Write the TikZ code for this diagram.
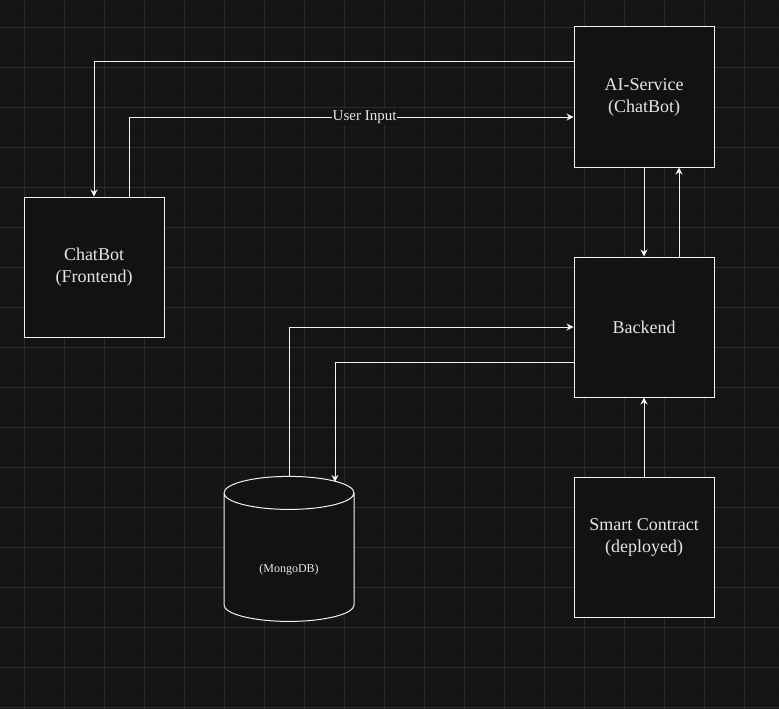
\documentclass[tikz,border=0pt]{standalone}
\usepackage{fontspec}
\setmainfont{Liberation Serif}
\usepackage{tikz}
\usetikzlibrary{arrows.meta,shapes.geometric}
\definecolor{Canvas}{HTML}{141414}
\definecolor{MinorGrid}{HTML}{181818}
\definecolor{MajorGrid}{HTML}{2B2B2B}
\definecolor{BoxFill}{HTML}{121212}
\definecolor{Ink}{HTML}{F2F2F2}
\definecolor{Label}{HTML}{E6E6E6}

\begin{document}
\begin{tikzpicture}[x=1pt, y=-1pt, >={Stealth[length=7pt,width=7pt]}]
\tikzset{box/.style={draw=Ink, line width=1pt, fill=BoxFill, minimum width=140pt, minimum height=140pt, align=center, text=Label, font=\fontsize{18}{22}\selectfont}, store/.style={cylinder, shape border rotate=90, aspect=0.5, draw=Ink, line width=1pt, fill=BoxFill, minimum width=130pt, minimum height=145pt, text=Label, font=\fontsize{12}{14}\selectfont, text height=28pt, text depth=3pt}, link/.style={->, draw=Ink, line width=1pt}}
% canvas and grid
\fill[Canvas] (0,0) rectangle (779,709);
\useasboundingbox (0,0) rectangle (779,709);
\foreach \x in {4,14,...,774} \draw[MinorGrid, line width=0.8pt] (\x,0) -- (\x,709);
\foreach \y in {7,17,...,707} \draw[MinorGrid, line width=0.8pt] (0,\y) -- (779,\y);
\foreach \x in {24,64,...,744} \draw[MajorGrid, line width=0.8pt] (\x,0) -- (\x,709);
\foreach \y in {27,67,...,707} \draw[MajorGrid, line width=0.8pt] (0,\y) -- (779,\y);
% blocks
\node[box] (ai) at (644,97) {AI-Service\\(ChatBot)};
\node[box] (chat) at (94,267) {ChatBot\\(Frontend)};
\node[box] (backend) at (644,327) {Backend};
\node[box] (contract) at (644,547) {Smart Contract\\(deployed)\\\mbox{}};
\node[store] (mongo) at (289,560) {(MongoDB)};
% connectors
\draw[link] ([yshift=35pt]ai.west) -| (chat.north);
\draw[link] ([xshift=35pt]chat.north) |- node[pos=0.765, fill=Canvas, inner sep=1pt, text=Label, font=\fontsize{15}{17}\selectfont] {User Input} ([yshift=-20pt]ai.west);
\draw[link] (ai.south) -- (backend.north);
\draw[link] ([xshift=35pt]backend.north) -- ([xshift=35pt]ai.south);
\draw[link] (mongo.north) |- (backend.west);
\draw[link] ([yshift=-35pt]backend.west) -| ([xshift=46pt,yshift=-6pt]mongo.north);
\draw[link] (contract.north) -- (backend.south);
\end{tikzpicture}
\end{document}
